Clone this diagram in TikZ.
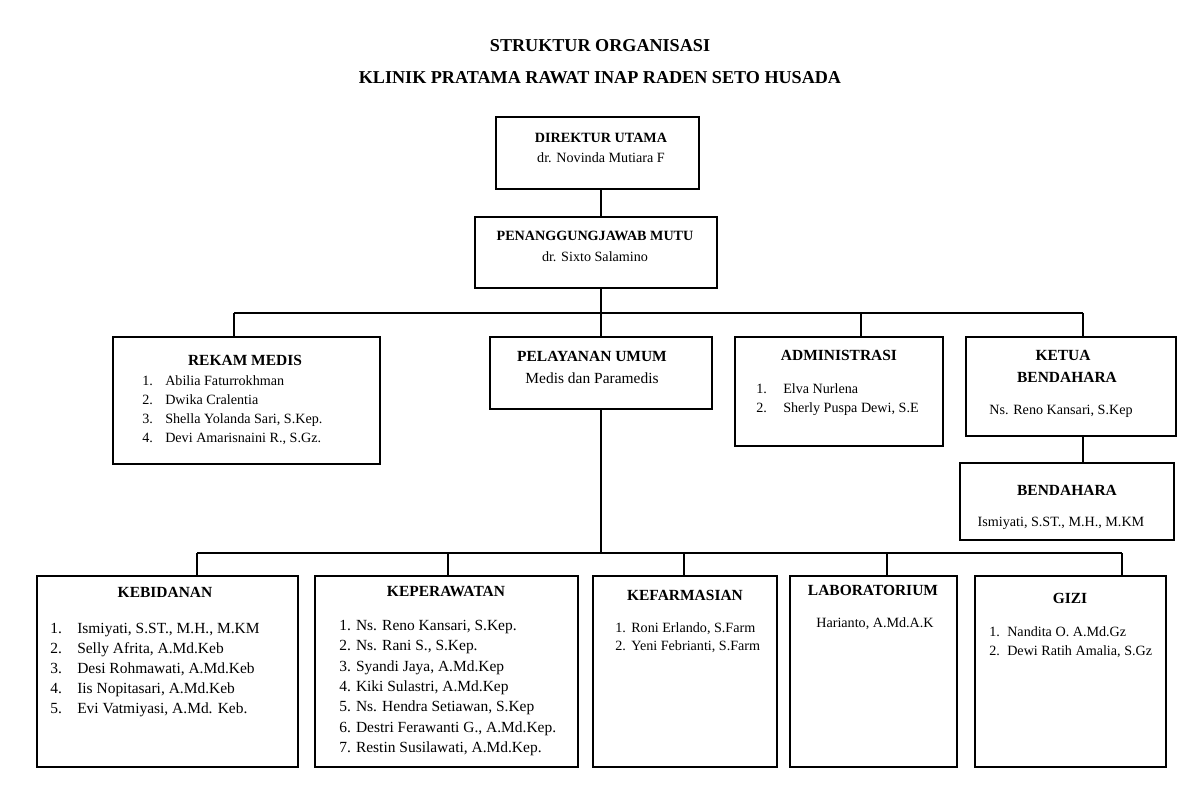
\documentclass[tikz,border=0pt]{standalone}
\usepackage{fontspec}
\setmainfont{Liberation Serif}
\usetikzlibrary{fit}
\newcommand\bodyfs{\fontsize{11.6pt}{13pt}\selectfont}
\newcommand\smallfs{\fontsize{10.6pt}{12pt}\selectfont}
\newcommand\titlefs{\fontsize{13.6pt}{15pt}\selectfont\bfseries}
\tikzset{
  box/.style={draw, line width=1.3pt, inner sep=0pt},
  conn/.style={draw, line width=2pt},
  txt/.style={inner sep=0pt, font=\bodyfs, text height=0.7em, text depth=0.2em, yshift=-1.5pt},
  stxt/.style={txt, font=\smallfs},
  hd/.style={txt, font=\bodyfs\bfseries},
  shd/.style={txt, font=\smallfs\bfseries},
  item/.style={txt, anchor=west},
  sitem/.style={stxt, anchor=west},
  maintitle/.style={inner sep=0pt, font=\titlefs}
}
\begin{document}
\begin{tikzpicture}[x=0.75pt, y=-0.75pt]
\useasboundingbox (0,0) rectangle (1200,785);
% titles
\node[maintitle] (t1) at (600,46) {STRUKTUR ORGANISASI};
\node[maintitle] (t2) at (600,78) {KLINIK PRATAMA RAWAT INAP RADEN SETO HUSADA};
% boxes
\node[box, fit={(496,117) (699,189)}] (dir) {};
\node[box, fit={(475,217) (717,288)}] (pj) {};
\node[box, fit={(113,337) (380,464)}] (rm) {};
\node[box, fit={(490,337) (712,409)}] (pu) {};
\node[box, fit={(735,337) (943,446)}] (adm) {};
\node[box, fit={(966,337) (1176,436)}] (kb) {};
\node[box, fit={(960,463) (1174,540)}] (bd) {};
\node[box, fit={(37,576) (298,767)}] (keb) {};
\node[box, fit={(315,576) (578,767)}] (kep) {};
\node[box, fit={(593,576) (777,767)}] (kef) {};
\node[box, fit={(790,576) (957,767)}] (lab) {};
\node[box, fit={(975,576) (1166,767)}] (gizi) {};
% connectors
\coordinate (b1) at (601,313);
\coordinate (b1L) at (234,313);
\coordinate (b1A) at (861,313);
\coordinate (b1R) at (1083,313);
\coordinate (b2) at (601,553);
\coordinate (b2L) at (197,553);
\coordinate (b2K) at (448,553);
\coordinate (b2F) at (684,553);
\coordinate (b2B) at (887,553);
\coordinate (b2R) at (1122,553);
\draw[conn] (dir.south -| b1) -- (pj.north -| b1);
\draw[conn] (pj.south -| b1) -- (b1);
\draw[conn] (b1L) -- (b1R);
\draw[conn] (b1L) -- (b1L |- rm.north);
\draw[conn] (b1) -- (b1 |- pu.north);
\draw[conn] (b1A) -- (b1A |- adm.north);
\draw[conn] (b1R) -- (b1R |- kb.north);
\draw[conn] (kb.south -| b1R) -- (bd.north -| b1R);
\draw[conn] (pu.south -| b2) -- (b2);
\draw[conn] (b2L) -- (b2R);
\draw[conn] (b2L) -- (b2L |- keb.north);
\draw[conn] (b2K) -- (b2K |- kep.north);
\draw[conn] (b2F) -- (b2F |- kef.north);
\draw[conn] (b2B) -- (b2B |- lab.north);
\draw[conn] (b2R) -- (b2R |- gizi.north);
% DIREKTUR
\node[shd] (dirh) at (601,137) {DIREKTUR UTAMA};
\node[stxt] (dirn) at (601,157) {dr. Novinda Mutiara F};
% PJ MUTU
\node[shd] (pjh) at (595,235) {PENANGGUNGJAWAB MUTU};
\node[stxt] (pjn) at (595,256) {dr. Sixto Salamino};
% REKAM MEDIS
\node[hd] (rmh) at (245,360) {REKAM MEDIS};
\node[sitem] (rm1n) at (142,380) {1.}; \node[sitem] (rm1) at (165,380) {Abilia Faturrokhman};
\node[sitem] (rm2n) at (142,399) {2.}; \node[sitem] (rm2) at (165,399) {Dwika Cralentia};
\node[sitem] (rm3n) at (142,418) {3.}; \node[sitem] (rm3) at (165,418) {Shella Yolanda Sari, S.Kep.};
\node[sitem] (rm4n) at (142,437) {4.}; \node[sitem] (rm4) at (165,437) {Devi Amarisnaini R., S.Gz.};
% PELAYANAN UMUM
\node[hd] (puh) at (592,356) {PELAYANAN UMUM};
\node[txt] (pun) at (592,378) {Medis dan Paramedis};
% ADMINISTRASI
\node[hd] (admh) at (839,355) {ADMINISTRASI};
\node[sitem] (adm1n) at (756,388) {1.}; \node[sitem] (adm1) at (783,388) {Elva Nurlena};
\node[sitem] (adm2n) at (756,407) {2.}; \node[sitem] (adm2) at (783,407) {Sherly Puspa Dewi, S.E};
% KETUA BENDAHARA
\node[hd] (kbh1) at (1063,355) {KETUA};
\node[hd] (kbh2) at (1067,377) {BENDAHARA};
\node[stxt] (kbn) at (1061,409) {Ns. Reno Kansari, S.Kep};
% BENDAHARA
\node[hd] (bdh) at (1067,490) {BENDAHARA};
\node[stxt] (bdn) at (1061,521) {Ismiyati, S.ST., M.H., M.KM};
% KEBIDANAN
\node[hd] (kebh) at (165,592) {KEBIDANAN};
\node[item] (keb1n) at (50,628) {1.}; \node[item] (keb1) at (77,628) {Ismiyati, S.ST., M.H., M.KM};
\node[item] (keb2n) at (50,648) {2.}; \node[item] (keb2) at (77,648) {Selly Afrita, A.Md.Keb};
\node[item] (keb3n) at (50,668) {3.}; \node[item] (keb3) at (77,668) {Desi Rohmawati, A.Md.Keb};
\node[item] (keb4n) at (50,688) {4.}; \node[item] (keb4) at (77,688) {Iis Nopitasari, A.Md.Keb};
\node[item] (keb5n) at (50,708) {5.}; \node[item] (keb5) at (77,708) {Evi Vatmiyasi, A.Md. Keb.};
% KEPERAWATAN
\node[hd] (keph) at (446,591) {KEPERAWATAN};
\node[item] (kep1) at (339,625) {1. Ns. Reno Kansari, S.Kep.};
\node[item] (kep2) at (339,645) {2. Ns. Rani S., S.Kep.};
\node[item] (kep3) at (339,666) {3. Syandi Jaya, A.Md.Kep};
\node[item] (kep4) at (339,686) {4. Kiki Sulastri, A.Md.Kep};
\node[item] (kep5) at (339,706) {5. Ns. Hendra Setiawan, S.Kep};
\node[item] (kep6) at (339,727) {6. Destri Ferawanti G., A.Md.Kep.};
\node[item] (kep7) at (339,747) {7. Restin Susilawati, A.Md.Kep.};
% KEFARMASIAN
\node[hd] (kefh) at (685,595) {KEFARMASIAN};
\node[sitem] (kef1n) at (615,627) {1.}; \node[sitem] (kef1) at (631,627) {Roni Erlando, S.Farm};
\node[sitem] (kef2n) at (615,645) {2.}; \node[sitem] (kef2) at (631,645) {Yeni Febrianti, S.Farm};
% LABORATORIUM
\node[hd] (labh) at (873,590) {LABORATORIUM};
\node[stxt] (labn) at (875,622) {Harianto, A.Md.A.K};
% GIZI
\node[hd] (gizih) at (1070,598) {GIZI};
\node[sitem] (gizi1n) at (989,631) {1.}; \node[sitem] (gizi1) at (1007,631) {Nandita O. A.Md.Gz};
\node[sitem] (gizi2n) at (989,650) {2.}; \node[sitem] (gizi2) at (1007,650) {Dewi Ratih Amalia, S.Gz};
\end{tikzpicture}
\end{document}
